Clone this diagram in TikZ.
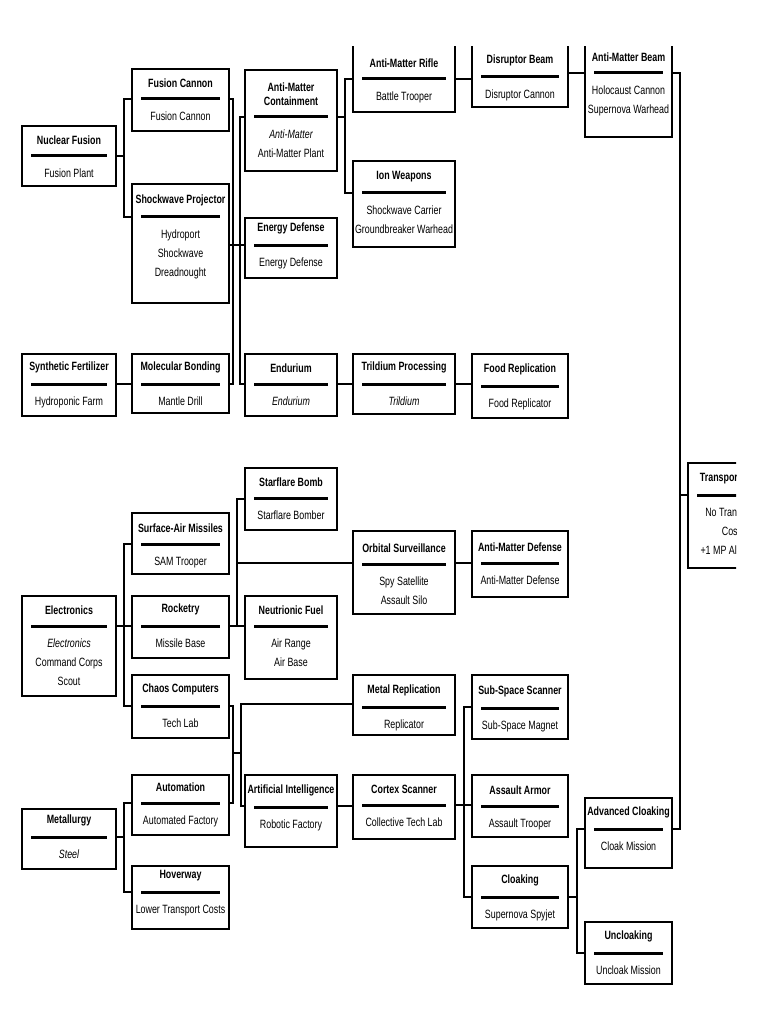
\documentclass[tikz,border=0pt]{standalone}
\usepackage{fontspec}
\setmainfont{Liberation Sans}[FakeStretch=0.74]
\begin{document}
\begin{tikzpicture}[x=1pt,y=-1pt,
  box/.style={draw,line width=1.2pt,inner sep=0pt},
  ttl/.style={font=\fontsize{12}{14}\selectfont\bfseries,align=center,inner sep=0pt},
  bdy/.style={font=\fontsize{12}{19}\selectfont,align=center,inner sep=0pt},
  link/.style={line width=1.1pt}]
\newcommand\tb[8]{%
  \node[box,minimum width={(#4-#2)*1pt},minimum height={(#5-#3)*1pt}] (#1) at ({(#2+#4)/2},{(#3+#5)/2}) {};
  \node[ttl,anchor=south] at ({(#2+#4)/2},#6-11) {#7};
  \draw[line width=3pt] (#2+9,#6) -- (#4-9,#6);
  \node[bdy,anchor=north] at ({(#2+#4)/2},#6+13) {#8};}
\useasboundingbox (0,0) rectangle (768,1024);
\begin{scope}
\clip (0,47) rectangle (736,1024);
\tb{nf}{22}{126}{116}{186}{156}{Nuclear Fusion}{Fusion Plant}
\tb{fc}{132}{69}{229}{131}{99}{Fusion Cannon}{Fusion Cannon}
\tb{sp}{132}{184}{229}{303}{217}{Shockwave Projector}{Hydroport\\Shockwave\\Dreadnought}
\tb{amc}{245}{70}{337}{171}{117}{Anti-Matter\\Containment}{\itshape Anti-Matter\\Anti-Matter Plant}
\tb{ed}{245}{218}{337}{278}{245}{Energy Defense}{Energy Defense}
\tb{amr}{353}{44}{455}{112}{79}{Anti-Matter Rifle}{Battle Trooper}
\tb{ion}{353}{161}{455}{247}{193}{Ion Weapons}{Shockwave Carrier\\Groundbreaker Warhead}
\tb{dis}{472}{44}{568}{107}{77}{Disruptor Beam}{Disruptor Cannon}
\tb{amb}{585}{44}{672}{137}{73}{Anti-Matter Beam}{Holocaust Cannon\\Supernova Warhead}
\tb{sf}{22}{354}{116}{416}{384}{Synthetic Fertilizer}{Hydroponic Farm}
\tb{mb}{132}{354}{229}{413}{384}{Molecular Bonding}{Mantle Drill}
\tb{endu}{245}{354}{337}{416}{384}{Endurium}{\itshape Endurium}
\tb{tril}{353}{354}{455}{414}{384}{Trildium Processing}{\itshape Trildium}
\tb{food}{472}{354}{568}{418}{386}{Food Replication}{Food Replicator}
\tb{tr}{688}{463}{774}{568}{495}{Transportation}{No Transport\\Cost\\+1 MP All Units}
\tb{sb}{245}{468}{337}{530}{498}{Starflare Bomb}{Starflare Bomber}
\tb{sam}{132}{513}{229}{574}{544}{Surface-Air Missiles}{SAM Trooper}
\tb{orb}{353}{531}{455}{614}{564}{Orbital Surveillance}{Spy Satellite\\Assault Silo}
\tb{amd}{472}{531}{568}{597}{563}{Anti-Matter Defense}{Anti-Matter Defense}
\tb{ele}{22}{596}{116}{696}{626}{Electronics}{\itshape Electronics\\Command Corps\\Scout}
\tb{roc}{132}{596}{229}{658}{626}{Rocketry}{Missile Base}
\tb{neu}{245}{596}{337}{679}{626}{Neutrionic Fuel}{Air Range\\Air Base}
\tb{cha}{132}{675}{229}{738}{706}{Chaos Computers}{Tech Lab}
\tb{mr}{353}{675}{455}{735}{707}{Metal Replication}{Replicator}
\tb{sss}{472}{675}{568}{739}{708}{Sub-Space Scanner}{Sub-Space Magnet}
\tb{aut}{132}{775}{229}{835}{803}{Automation}{Automated Factory}
\tb{ai}{245}{775}{337}{847}{807}{Artificial Intelligence}{Robotic Factory}
\tb{cor}{353}{775}{455}{839}{805}{Cortex Scanner}{Collective Tech Lab}
\tb{aa}{472}{775}{568}{837}{806}{Assault Armor}{Assault Trooper}
\tb{met}{22}{809}{116}{869}{837}{Metallurgy}{\itshape Steel}
\tb{hov}{132}{866}{229}{929}{892}{Hoverway}{Lower Transport Costs}
\tb{clo}{472}{866}{568}{928}{897}{Cloaking}{Supernova Spyjet}
\tb{adv}{585}{798}{672}{868}{829}{Advanced Cloaking}{Cloak Mission}
\tb{unc}{585}{922}{672}{984}{953}{Uncloaking}{Uncloak Mission}
% connectors
\draw[link] (nf.east|-0,156) -- (124,156) |- (fc.west|-0,99);
\draw[link] (124,156) |- (sp.west|-0,217);
\draw[link] (fc.east|-0,99) -| (233,384) -- (mb.east|-0,384);
\draw[link] (sp.east|-0,245) -- (ed.west|-0,245);
\draw[link] (amc.west|-0,117) -| (240,384) -- (endu.west|-0,384);
\draw[link] (amc.east|-0,117) -- (345,117) |- (amr.west|-0,79);
\draw[link] (345,117) |- (ion.west|-0,193);
\draw[link] (amr.east|-0,79) -- (dis.west|-0,79);
\draw[link] (dis.east|-0,73) -- (amb.west|-0,73);
\draw[link] (amb.east|-0,73) -| (680,829) -- (adv.east|-0,829);
\draw[link] (680,495) -- (tr.west|-0,495);
\draw[link] (sf.east|-0,384) -- (mb.west|-0,384);
\draw[link] (endu.east|-0,384) -- (tril.west|-0,384);
\draw[link] (tril.east|-0,384) -- (food.west|-0,384);
\draw[link] (ele.east|-0,626) -- (124,626) |- (sam.west|-0,544);
\draw[link] (124,626) |- (cha.west|-0,706);
\draw[link] (124,626) -- (roc.west|-0,626);
\draw[link] (roc.east|-0,626) -- (237,626) |- (sb.west|-0,499);
\draw[link] (237,563) -- (orb.west|-0,563);
\draw[link] (237,626) -- (neu.west|-0,626);
\draw[link] (orb.east|-0,563) -- (amd.west|-0,563);
\draw[link] (cha.east|-0,706) -| (233,803) -- (aut.east|-0,803);
\draw[link] (233,753) -- (241,753);
\draw[link] (mr.west|-0,704) -| (241,806) -- (ai.west|-0,806);
\draw[link] (met.east|-0,837) -- (124,837) |- (aut.west|-0,803);
\draw[link] (124,837) |- (hov.west|-0,892);
\draw[link] (ai.east|-0,806) -- (cor.west|-0,806);
\draw[link] (cor.east|-0,805) -- (464,805) |- (sss.west|-0,707);
\draw[link] (464,805) -- (aa.west|-0,805);
\draw[link] (464,805) |- (clo.west|-0,897);
\draw[link] (clo.east|-0,897) -- (577,897) |- (adv.west|-0,829);
\draw[link] (577,897) |- (unc.west|-0,953);
\end{scope}
\end{tikzpicture}
\end{document}
